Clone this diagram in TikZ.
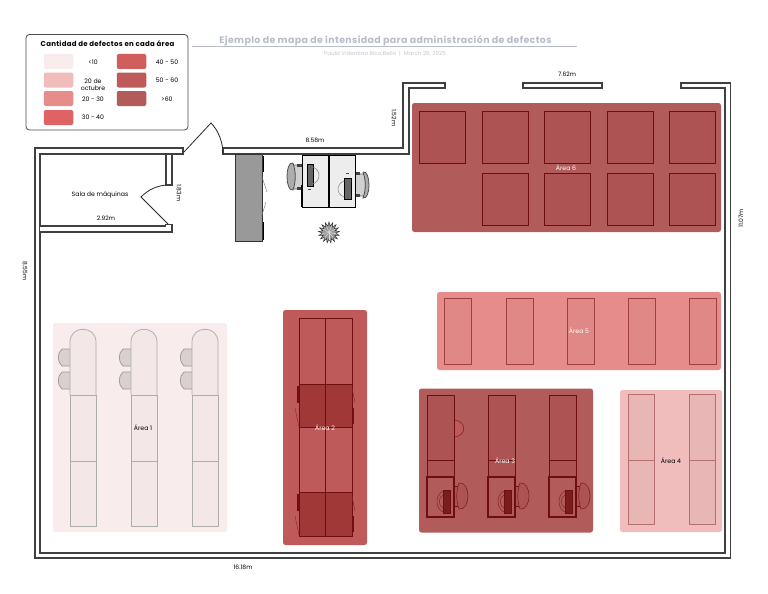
\documentclass[tikz,border=0pt]{standalone}
\usepackage{fontspec}
\setmainfont{Poppins}
\usetikzlibrary{shapes.geometric}

\definecolor{zoneA}{HTML}{F9ECEC}
\definecolor{zoneB}{HTML}{F0BCBC}
\definecolor{zoneC}{HTML}{E68C8A}
\definecolor{zoneD}{HTML}{DF6362}
\definecolor{zoneE}{HTML}{D05E5C}
\definecolor{zoneF}{HTML}{BF5A5A}
\definecolor{zoneG}{HTML}{B25B5B}
\definecolor{titlegray}{HTML}{B7BCC8}
\definecolor{inkdark}{HTML}{6E0E0E}
\definecolor{tablesix}{HTML}{AD5353}
\definecolor{tabletwo}{HTML}{A03838}

\tikzset{
  wall/.style={draw=black!75,line width=1.1pt,fill=white},
  zone/.style={rounded corners=2.5pt},
  swatch/.style={rounded corners=2pt,minimum width=29.5pt,minimum height=15pt,inner sep=0pt},
  lbl/.style={font=\fontsize{6.2}{7.5}\selectfont,align=center,inner sep=0pt},
  dim/.style={lbl,font=\fontsize{6}{7}\selectfont},
  tblpale/.style={draw=black!32,fill=zoneA!98!black,line width=.75pt},
  tblfour/.style={draw=inkdark!45!zoneB,fill=black!3!zoneB,line width=.8pt},
  tblfive/.style={draw=inkdark!60!zoneC,fill=black!3!zoneC,line width=.8pt},
  tblsix/.style={draw=inkdark,fill=tablesix,line width=.9pt},
  tbltwo/.style={draw=inkdark,fill=zoneF,line width=.8pt}
}

\newcommand{\palechair}[2]{
  \draw[draw=black!40,fill=black!12!zoneA,line width=.7pt] (#1+12,#2) -- (#1+4,#2)
    .. controls (#1-1,#2+4) and (#1-1,#2+13) .. (#1+4,#2+17) -- (#1+12,#2+17);
}
\newcommand{\palebench}[1]{
  \palechair{#1-12}{349}
  \palechair{#1-12}{372}
  \draw[tblpale] (#1,395) -- (#1,342) .. controls (#1,325) and (#1+26,325) .. (#1+26,342) -- (#1+26,395);
  \draw[tblpale] (#1,395) rectangle (#1+26,461);
  \draw[tblpale] (#1,461) rectangle (#1+26,526);
}
\newcommand{\darkstation}[2]{
  \draw[tblsix] (#1,395) rectangle (#1+27,460);
  \draw[tblsix] (#1,460) rectangle (#1+27,477);
  \draw[draw=inkdark,line width=1.3pt] (#1,477) rectangle (#1+27,517);
  \draw[inkdark,fill=inkdark!80!zoneG,line width=.8pt] (#1+16,490) rectangle (#1+23,513);
  \draw[draw=inkdark!70!zoneG,line width=.5pt] (#1+16,491) .. controls (#1+8,495) and (#1+8,508) .. (#1+16,512);
  \draw[draw=inkdark!70!zoneG,line width=.5pt] (#1+16,495) .. controls (#1+11,498) and (#1+11,505) .. (#1+16,508);
  \draw[draw=inkdark,fill=tablesix,line width=.6pt] (#1+27,#2) rectangle (#1+32,#2+20);
  \draw[draw=inkdark!75!zoneG,fill=tablesix,line width=.6pt] (#1+32,#2-3) .. controls (#1+44,#2-5) and (#1+44,#2+25) .. (#1+32,#2+23)
    .. controls (#1+29,#2+15) and (#1+29,#2+5) .. (#1+32,#2-3);
}
\newcommand{\doorpair}[1]{
  \draw[inkdark,line width=1.6pt] (298,#1+2) -- (298,#1+19);
  \draw[inkdark,line width=1.6pt] (353,#1+24) -- (353,#1+40);
  \draw[inkdark!70!zoneF,line width=.4pt] (295,#1+24) -- (299,#1+43);
  \draw[inkdark!70!zoneF,line width=.4pt] (352,#1+4) -- (355,#1+19);
}

\begin{document}
\begin{tikzpicture}[x=1pt,y=-1pt]
  \useasboundingbox (0,0) rectangle (768,594);

  % title
  \node[font=\fontsize{9.4}{10}\bfseries\selectfont\addfontfeature{LetterSpace=4},text=titlegray,inner sep=0pt] (title) at (385.5,40.5) {Ejemplo de mapa de intensidad para administración de defectos};
  \node[font=\fontsize{5.6}{6}\selectfont,text=titlegray!85,inner sep=0pt] (subtitle) at (385,54) {Paula Valentina Rico Bello \ | \ March 26, 2025};
  \draw[titlegray,line width=1pt] (192,46.5) -- (577,46.5);

  % legend
  \draw[draw=black!70,fill=white,line width=.8pt,rounded corners=3.5pt] (26,34.5) rectangle (188,130);
  \node[font=\fontsize{7}{8}\bfseries\selectfont\addfontfeature{LetterSpace=4},inner sep=0pt] (legendtitle) at (107.5,44) {Cantidad de defectos en cada área};
  \node[swatch,fill=zoneA] (swA) at (58.5,61.5) {};
  \node[swatch,fill=zoneB] (swB) at (58.5,80) {};
  \node[swatch,fill=zoneC] (swC) at (58.5,98.5) {};
  \node[swatch,fill=zoneD] (swD) at (58.5,117.5) {};
  \node[swatch,fill=zoneE] (swE) at (131.5,61.5) {};
  \node[swatch,fill=zoneF] (swF) at (131.5,80) {};
  \node[swatch,fill=zoneG] (swG) at (131.5,98.5) {};
  \node[lbl] (txA) at (93,62) {<10};
  \node[lbl] (txB) at (93,84.5) {20 de\\octubre};
  \node[lbl] (txC) at (93,99) {20 - 30};
  \node[lbl] (txD) at (93,117.5) {30 - 40};
  \node[lbl] (txE) at (167,62) {40 - 50};
  \node[lbl] (txF) at (167,80.5) {50 - 60};
  \node[lbl] (txG) at (167,99) {>60};

  % building walls
  \draw[wall] (35,558) -- (35,148) -- (183,148) -- (183,154) -- (40,154) -- (40,553) -- (725,553) -- (725,88)
    -- (681,88) -- (681,83) -- (730.5,83) -- (730.5,558) -- cycle;
  \draw[wall] (223,154) -- (223,148) -- (403,148) -- (403,83) -- (445,83) -- (445,88) -- (409,88) -- (409,154) -- cycle;
  \draw[wall] (523,83) rectangle (602,88);
  \draw[wall] (166,154) rectangle (172,185);
  \draw[wall] (40,226) -- (165.5,226) -- (165.5,224.5) -- (172,224.5) -- (172,232) -- (40,232);
  \draw[black!85,line width=.8pt] (184,152) -- (211,123) .. controls (218,130) and (223,142) .. (223,154);
  \draw[black!85,line width=.8pt] (168,224) -- (141,197) .. controls (148,190) and (156,186) .. (166,185);

  % office
  \draw[draw=black!80,fill=black!40,line width=.8pt] (235,154) rectangle (262,241);
  \draw[black,line width=1.5pt] (263.5,156) -- (263.5,172);
  \draw[black,line width=1.5pt] (263.5,222) -- (263.5,240);
  \draw[black!55,line width=.4pt] (262,177) -- (267,192);
  \draw[black!55,line width=.4pt] (266,202) -- (262,215);
  % chairs
  \draw[draw=black!60,fill=black!18,line width=.6pt,rounded corners=3pt] (291,165) rectangle (304,189);
  \draw[draw=black!70,fill=black!32,line width=.8pt] (293,163) .. controls (285,161) and (285,192) .. (293,190) .. controls (296,181) and (296,172) .. (293,163);
  \fill[black!75] (297,164) rectangle (302,167);
  \fill[black!75] (297,187) rectangle (302,190);
  \draw[draw=black!60,fill=black!18,line width=.6pt,rounded corners=3pt] (353,174) rectangle (366,196);
  \draw[draw=black!70,fill=black!32,line width=.8pt] (363,172) .. controls (371,170) and (371,200) .. (363,198) .. controls (366,190) and (366,180) .. (363,172);
  \fill[black!75] (355,172) rectangle (360,175);
  \fill[black!75] (355,194) rectangle (360,197);
  % desks
  \draw[draw=black,fill=black!7,line width=.9pt] (302,155) rectangle (328,207);
  \draw[draw=black,fill=black!7,line width=.9pt] (329,155) rectangle (355,207);
  \draw[black,line width=1.4pt] (328.5,155) -- (328.5,207);
  \draw[black,line width=1.2pt] (301.5,185) -- (301.5,207);
  \draw[black,line width=1.2pt] (355.5,155) -- (355.5,172);
  \draw[draw=black,fill=black!60,line width=.9pt] (307,164) rectangle (313,186);
  \draw[draw=black,fill=black!60,line width=.9pt] (344,178) rectangle (351,199);
  \fill[black!70] (308,188.5) rectangle (311,190);
  \fill[black!70] (346,172.5) rectangle (349,174);
  \draw[black!50,line width=.5pt] (313,167) .. controls (321,170) and (321,181) .. (313,184);
  \draw[black!50,line width=.5pt] (344,181) .. controls (336,184) and (336,194) .. (344,197);

  % plant
  \node[star,star points=17,star point ratio=1.6,minimum size=21pt,inner sep=0pt,draw=black!80,fill=black!40,line width=.5pt] (plant) at (329,232.5) {};
  \foreach \ang in {10,50,...,370}
    \draw[black!15,line width=.45pt] (plant.center) -- ++(\ang:7);

  % area 1
  \fill[zone,zoneA] (53,323) rectangle (227,532);
  \palebench{70}
  \palebench{131}
  \palebench{192}
  \node[lbl] (areaA) at (143,428) {Área 1};

  % area 2
  \fill[zone,zoneF] (283,310) rectangle (367,545);
  \draw[tbltwo] (299,318) rectangle (352,536);
  \draw[tbltwo,fill=tabletwo] (299,384) rectangle (352,427);
  \draw[tbltwo,fill=tabletwo] (299,492) rectangle (352,536);
  \draw[tbltwo] (325.5,318) -- (325.5,536);
  \doorpair{384}
  \doorpair{492}
  \node[lbl,text=white] (areaB) at (325,428) {Área 2};

  % area 3
  \fill[zone,zoneG] (419,388.5) rectangle (593,532.5);
  \draw[draw=inkdark!70!zoneG,fill=zoneF,line width=.6pt] (454,420) .. controls (467,421) and (467,436) .. (454,437);
  \darkstation{427}{486}
  \darkstation{488}{486}
  \darkstation{549}{486}
  \node[lbl,text=white] (areaC) at (505,461) {Área 3};

  % area 4
  \fill[zone,zoneB] (620,390) rectangle (722,532);
  \foreach \tx in {628,689}{
    \draw[tblfour] (\tx,394) rectangle (\tx+26.5,460);
    \draw[tblfour] (\tx,460) rectangle (\tx+26.5,524);
  }
  \node[lbl] (areaD) at (671,461) {Área 4};

  % area 5
  \fill[zone,zoneC] (437,292) rectangle (721,370);
  \foreach \tx in {444,506,567,628,689}
    \draw[tblfive] (\tx,298) rectangle (\tx+27,364);
  \node[lbl,text=white] (areaE) at (579,331) {Área 5};

  % area 6
  \fill[zone,zoneG] (412,103) rectangle (721,232);
  \foreach \tx in {419,482,544,607,669}
    \draw[tblsix] (\tx,111) rectangle (\tx+46,163);
  \foreach \tx in {482,544,607,669}
    \draw[tblsix] (\tx,173) rectangle (\tx+46,225);
  \node[lbl,text=white] (areaF) at (566,168) {Área 6};

  % wall labels
  \node[lbl] (room) at (100,195) {Sala de máquinas};
  \node[dim] (dimA) at (106,218) {2.92m};
  \node[dim,rotate=-90] (dimB) at (179,193) {1.83m};
  \node[dim] (dimC) at (315,140) {8.58m};
  \node[dim,rotate=-90] (dimD) at (394,118) {1.52m};
  \node[dim] (dimE) at (567,74) {7.62m};
  \node[dim,rotate=90] (dimF) at (741,218) {11.07m};
  \node[dim,rotate=-90] (dimG) at (25,271) {8.55m};
  \node[dim] (dimH) at (243,567) {16.18m};
\end{tikzpicture}
\end{document}
